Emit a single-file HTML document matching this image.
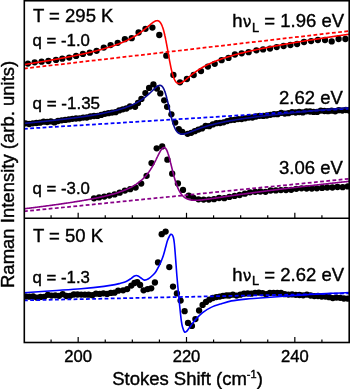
<!DOCTYPE html>
<html><head><meta charset="utf-8"><title>Raman Fano spectra</title>
<style>html,body{margin:0;padding:0;background:#fff;}body{width:350px;height:389px;overflow:hidden;}svg{display:block;}</style>
</head><body>
<svg width="350" height="389" viewBox="0 0 350 389">
<defs><clipPath id="c1"><rect x="24" y="1" width="325" height="217"/></clipPath>
<clipPath id="c2"><rect x="24" y="218" width="325" height="124"/></clipPath></defs>
<g clip-path="url(#c1)">
<g fill="#000"><circle cx="27.9" cy="63.6" r="3.15"/><circle cx="34.7" cy="62.3" r="3.15"/><circle cx="41.6" cy="61.7" r="3.15"/><circle cx="48.4" cy="61.0" r="3.15"/><circle cx="56.0" cy="59.9" r="3.15"/><circle cx="62.3" cy="58.7" r="3.15"/><circle cx="69.2" cy="57.6" r="3.15"/><circle cx="76.1" cy="55.9" r="3.15"/><circle cx="82.9" cy="53.9" r="3.15"/><circle cx="89.8" cy="52.7" r="3.15"/><circle cx="96.6" cy="50.8" r="3.15"/><circle cx="103.8" cy="47.6" r="3.15"/><circle cx="110.6" cy="45.1" r="3.15"/><circle cx="117.7" cy="42.8" r="3.15"/><circle cx="124.9" cy="39.2" r="3.15"/><circle cx="131.7" cy="38.2" r="3.15"/><circle cx="138.6" cy="32.5" r="3.15"/><circle cx="145.5" cy="28.8" r="3.15"/><circle cx="152.4" cy="27.6" r="3.15"/><circle cx="159.3" cy="35.0" r="3.15"/><circle cx="166.3" cy="55.7" r="3.15"/><circle cx="173.4" cy="74.9" r="3.15"/><circle cx="180.0" cy="82.3" r="3.15"/><circle cx="186.9" cy="79.0" r="3.15"/><circle cx="193.7" cy="75.0" r="3.15"/><circle cx="201.0" cy="71.1" r="3.15"/><circle cx="207.9" cy="66.6" r="3.15"/><circle cx="214.7" cy="63.8" r="3.15"/><circle cx="221.6" cy="60.2" r="3.15"/><circle cx="228.5" cy="57.9" r="3.15"/><circle cx="234.9" cy="54.5" r="3.15"/><circle cx="241.7" cy="53.3" r="3.15"/><circle cx="248.6" cy="52.2" r="3.15"/><circle cx="256.4" cy="50.3" r="3.15"/><circle cx="263.1" cy="49.4" r="3.15"/><circle cx="270.0" cy="48.6" r="3.15"/><circle cx="276.7" cy="47.1" r="3.15"/><circle cx="283.6" cy="46.0" r="3.15"/><circle cx="290.4" cy="45.0" r="3.15"/><circle cx="297.1" cy="44.0" r="3.15"/><circle cx="304.0" cy="42.0" r="3.15"/><circle cx="311.1" cy="41.1" r="3.15"/><circle cx="317.9" cy="40.0" r="3.15"/><circle cx="325.0" cy="40.0" r="3.15"/><circle cx="331.7" cy="41.4" r="3.15"/><circle cx="338.6" cy="39.0" r="3.15"/><circle cx="345.4" cy="39.0" r="3.15"/><circle cx="22.0" cy="125.3" r="3.15"/><circle cx="25.6" cy="123.3" r="3.15"/><circle cx="29.2" cy="124.0" r="3.15"/><circle cx="32.8" cy="123.3" r="3.15"/><circle cx="36.4" cy="123.0" r="3.15"/><circle cx="40.0" cy="122.7" r="3.15"/><circle cx="43.6" cy="121.7" r="3.15"/><circle cx="47.2" cy="122.0" r="3.15"/><circle cx="50.8" cy="121.4" r="3.15"/><circle cx="54.4" cy="122.4" r="3.15"/><circle cx="58.0" cy="121.0" r="3.15"/><circle cx="61.6" cy="120.3" r="3.15"/><circle cx="65.2" cy="119.9" r="3.15"/><circle cx="68.8" cy="119.4" r="3.15"/><circle cx="72.4" cy="118.8" r="3.15"/><circle cx="76.0" cy="118.5" r="3.15"/><circle cx="79.6" cy="118.3" r="3.15"/><circle cx="83.2" cy="117.6" r="3.15"/><circle cx="86.8" cy="117.5" r="3.15"/><circle cx="90.4" cy="116.5" r="3.15"/><circle cx="94.0" cy="116.0" r="3.15"/><circle cx="97.6" cy="115.9" r="3.15"/><circle cx="101.2" cy="114.9" r="3.15"/><circle cx="104.8" cy="113.8" r="3.15"/><circle cx="108.4" cy="113.2" r="3.15"/><circle cx="112.0" cy="112.6" r="3.15"/><circle cx="115.6" cy="112.2" r="3.15"/><circle cx="119.2" cy="110.4" r="3.15"/><circle cx="122.8" cy="109.3" r="3.15"/><circle cx="126.4" cy="108.5" r="3.15"/><circle cx="130.0" cy="106.5" r="3.15"/><circle cx="187.6" cy="133.8" r="3.15"/><circle cx="191.2" cy="132.8" r="3.15"/><circle cx="194.8" cy="131.2" r="3.15"/><circle cx="198.4" cy="129.6" r="3.15"/><circle cx="202.0" cy="128.4" r="3.15"/><circle cx="205.6" cy="126.0" r="3.15"/><circle cx="209.2" cy="126.2" r="3.15"/><circle cx="212.8" cy="124.4" r="3.15"/><circle cx="216.4" cy="123.2" r="3.15"/><circle cx="220.0" cy="123.0" r="3.15"/><circle cx="223.6" cy="122.3" r="3.15"/><circle cx="227.2" cy="121.1" r="3.15"/><circle cx="230.8" cy="120.1" r="3.15"/><circle cx="234.4" cy="119.8" r="3.15"/><circle cx="238.0" cy="119.1" r="3.15"/><circle cx="241.6" cy="119.1" r="3.15"/><circle cx="245.2" cy="118.3" r="3.15"/><circle cx="248.8" cy="117.6" r="3.15"/><circle cx="252.4" cy="117.5" r="3.15"/><circle cx="256.0" cy="116.5" r="3.15"/><circle cx="259.6" cy="115.8" r="3.15"/><circle cx="263.2" cy="115.9" r="3.15"/><circle cx="266.8" cy="115.5" r="3.15"/><circle cx="270.4" cy="114.8" r="3.15"/><circle cx="274.0" cy="114.2" r="3.15"/><circle cx="277.6" cy="114.2" r="3.15"/><circle cx="281.2" cy="112.8" r="3.15"/><circle cx="284.8" cy="113.6" r="3.15"/><circle cx="288.4" cy="113.2" r="3.15"/><circle cx="292.0" cy="112.1" r="3.15"/><circle cx="295.6" cy="112.5" r="3.15"/><circle cx="299.2" cy="112.0" r="3.15"/><circle cx="302.8" cy="112.4" r="3.15"/><circle cx="306.4" cy="111.3" r="3.15"/><circle cx="310.0" cy="111.5" r="3.15"/><circle cx="313.6" cy="111.9" r="3.15"/><circle cx="317.2" cy="111.9" r="3.15"/><circle cx="320.8" cy="110.6" r="3.15"/><circle cx="324.4" cy="111.0" r="3.15"/><circle cx="328.0" cy="111.2" r="3.15"/><circle cx="331.6" cy="110.7" r="3.15"/><circle cx="335.2" cy="111.3" r="3.15"/><circle cx="338.8" cy="110.2" r="3.15"/><circle cx="342.4" cy="110.6" r="3.15"/><circle cx="346.0" cy="110.0" r="3.15"/><circle cx="349.6" cy="110.7" r="3.15"/><circle cx="135.1" cy="106.8" r="3.15"/><circle cx="138.0" cy="102.9" r="3.15"/><circle cx="141.4" cy="98.9" r="3.15"/><circle cx="145.4" cy="93.1" r="3.15"/><circle cx="149.1" cy="87.9" r="3.15"/><circle cx="153.4" cy="84.3" r="3.15"/><circle cx="156.9" cy="88.6" r="3.15"/><circle cx="160.3" cy="93.4" r="3.15"/><circle cx="164.2" cy="100.3" r="3.15"/><circle cx="167.1" cy="106.8" r="3.15"/><circle cx="171.4" cy="114.3" r="3.15"/><circle cx="175.2" cy="122.6" r="3.15"/><circle cx="178.8" cy="129.1" r="3.15"/><circle cx="182.2" cy="131.8" r="3.15"/><circle cx="208.8" cy="199.6" r="3.15"/><circle cx="214.0" cy="199.2" r="3.15"/><circle cx="219.1" cy="198.0" r="3.15"/><circle cx="224.3" cy="198.2" r="3.15"/><circle cx="229.4" cy="196.9" r="3.15"/><circle cx="234.6" cy="195.9" r="3.15"/><circle cx="239.7" cy="195.0" r="3.15"/><circle cx="244.9" cy="193.7" r="3.15"/><circle cx="250.0" cy="192.3" r="3.15"/><circle cx="255.2" cy="191.8" r="3.15"/><circle cx="260.3" cy="191.5" r="3.15"/><circle cx="265.5" cy="191.8" r="3.15"/><circle cx="270.6" cy="190.5" r="3.15"/><circle cx="275.8" cy="190.4" r="3.15"/><circle cx="280.9" cy="190.1" r="3.15"/><circle cx="286.0" cy="190.0" r="3.15"/><circle cx="291.2" cy="189.8" r="3.15"/><circle cx="296.3" cy="188.8" r="3.15"/><circle cx="301.5" cy="188.3" r="3.15"/><circle cx="306.6" cy="188.5" r="3.15"/><circle cx="311.8" cy="188.6" r="3.15"/><circle cx="316.9" cy="188.3" r="3.15"/><circle cx="322.1" cy="187.9" r="3.15"/><circle cx="327.2" cy="187.5" r="3.15"/><circle cx="332.4" cy="187.5" r="3.15"/><circle cx="337.5" cy="187.0" r="3.15"/><circle cx="342.7" cy="187.2" r="3.15"/><circle cx="347.8" cy="186.4" r="3.15"/><circle cx="94.0" cy="198.3" r="3.15"/><circle cx="99.1" cy="197.4" r="3.15"/><circle cx="104.3" cy="196.6" r="3.15"/><circle cx="109.4" cy="195.6" r="3.15"/><circle cx="114.6" cy="194.4" r="3.15"/><circle cx="119.7" cy="192.7" r="3.15"/><circle cx="124.9" cy="190.6" r="3.15"/><circle cx="130.2" cy="189.2" r="3.15"/><circle cx="135.6" cy="187.6" r="3.15"/><circle cx="141.2" cy="183.6" r="3.15"/><circle cx="146.6" cy="175.8" r="3.15"/><circle cx="151.5" cy="163.1" r="3.15"/><circle cx="156.7" cy="148.3" r="3.15"/><circle cx="162.2" cy="146.4" r="3.15"/><circle cx="167.4" cy="159.7" r="3.15"/><circle cx="172.2" cy="173.7" r="3.15"/><circle cx="177.9" cy="183.4" r="3.15"/><circle cx="183.0" cy="189.9" r="3.15"/><circle cx="188.7" cy="195.7" r="3.15"/><circle cx="193.4" cy="197.9" r="3.15"/><circle cx="198.5" cy="199.3" r="3.15"/><circle cx="203.6" cy="199.6" r="3.15"/></g>
<g fill="none" stroke-width="1.75" stroke-dasharray="3.8 2.4">
<line x1="24" y1="68.53" x2="349" y2="30.99" stroke="#ff0000"/>
<line x1="24" y1="128.76" x2="349" y2="108.61" stroke="#0000ff"/>
<line x1="24" y1="211.34" x2="349" y2="178.79" stroke="#880088"/>
</g>
<g fill="none" stroke-width="1.6" stroke-linejoin="round">
<path d="M24.00,64.60 L24.81,64.47 L25.63,64.34 L26.44,64.21 L27.26,64.08 L28.07,63.95 L28.89,63.82 L29.70,63.69 L30.52,63.56 L31.33,63.43 L32.15,63.30 L32.96,63.17 L33.77,63.04 L34.59,62.91 L35.40,62.77 L36.22,62.64 L37.03,62.51 L37.85,62.37 L38.66,62.24 L39.48,62.11 L40.29,61.97 L41.11,61.83 L41.92,61.70 L42.73,61.56 L43.55,61.42 L44.36,61.29 L45.18,61.15 L45.99,61.01 L46.81,60.87 L47.62,60.73 L48.44,60.59 L49.25,60.45 L50.07,60.31 L50.88,60.17 L51.69,60.03 L52.51,59.88 L53.32,59.74 L54.14,59.60 L54.95,59.45 L55.77,59.31 L56.58,59.16 L57.40,59.01 L58.21,58.87 L59.03,58.72 L59.84,58.57 L60.65,58.42 L61.47,58.27 L62.28,58.12 L63.10,57.97 L63.91,57.81 L64.73,57.66 L65.54,57.51 L66.36,57.35 L67.17,57.19 L67.98,57.04 L68.80,56.88 L69.61,56.72 L70.43,56.56 L71.24,56.40 L72.06,56.24 L72.87,56.08 L73.69,55.91 L74.50,55.75 L75.32,55.58 L76.13,55.41 L76.94,55.25 L77.76,55.08 L78.57,54.91 L79.39,54.73 L80.20,54.56 L81.02,54.39 L81.83,54.21 L82.65,54.03 L83.46,53.85 L84.28,53.67 L85.09,53.49 L85.90,53.31 L86.72,53.12 L87.53,52.94 L88.35,52.75 L89.16,52.56 L89.98,52.37 L90.79,52.18 L91.61,51.98 L92.42,51.78 L93.24,51.58 L94.05,51.38 L94.86,51.18 L95.68,50.97 L96.49,50.77 L97.31,50.56 L98.12,50.34 L98.94,50.13 L99.75,49.91 L100.57,49.69 L101.38,49.47 L102.20,49.24 L103.01,49.01 L103.82,48.78 L104.64,48.55 L105.45,48.31 L106.27,48.07 L107.08,47.82 L107.90,47.58 L108.71,47.32 L109.53,47.07 L110.34,46.81 L111.16,46.55 L111.97,46.28 L112.78,46.01 L113.60,45.73 L114.41,45.45 L115.23,45.16 L116.04,44.87 L116.86,44.57 L117.67,44.27 L118.49,43.96 L119.30,43.65 L120.12,43.33 L120.93,43.00 L121.74,42.67 L122.56,42.33 L123.37,41.99 L124.19,41.63 L125.00,41.27 L125.82,40.90 L126.63,40.52 L127.45,40.14 L128.26,39.74 L129.08,39.33 L129.89,38.92 L130.70,38.49 L131.52,38.06 L132.33,37.61 L133.15,37.15 L133.96,36.68 L134.78,36.20 L135.59,35.70 L136.41,35.20 L137.22,34.67 L138.04,34.14 L138.85,33.59 L139.66,33.03 L140.00,32.79 L140.10,32.72 L140.20,32.65 L140.30,32.58 L140.40,32.50 L140.48,32.45 L140.50,32.43 L140.60,32.36 L140.70,32.29 L140.80,32.22 L140.90,32.14 L141.00,32.07 L141.10,32.00 L141.20,31.92 L141.29,31.86 L141.30,31.85 L141.40,31.77 L141.50,31.70 L141.60,31.63 L141.70,31.55 L141.80,31.48 L141.90,31.40 L142.00,31.33 L142.10,31.25 L142.11,31.25 L142.20,31.18 L142.30,31.10 L142.40,31.02 L142.50,30.95 L142.60,30.87 L142.70,30.79 L142.80,30.72 L142.90,30.64 L142.92,30.63 L143.01,30.56 L143.11,30.48 L143.21,30.41 L143.31,30.33 L143.41,30.25 L143.51,30.17 L143.61,30.09 L143.71,30.01 L143.74,29.99 L143.81,29.94 L143.91,29.86 L144.01,29.78 L144.11,29.70 L144.21,29.62 L144.31,29.54 L144.41,29.46 L144.51,29.38 L144.55,29.34 L144.61,29.30 L144.71,29.22 L144.81,29.13 L144.91,29.05 L145.01,28.97 L145.11,28.89 L145.21,28.81 L145.31,28.73 L145.37,28.68 L145.41,28.64 L145.51,28.56 L145.61,28.48 L145.71,28.40 L145.81,28.31 L145.91,28.23 L146.01,28.15 L146.11,28.07 L146.18,28.01 L146.21,27.98 L146.31,27.90 L146.41,27.82 L146.51,27.73 L146.61,27.65 L146.71,27.56 L146.81,27.48 L146.91,27.40 L146.99,27.33 L147.01,27.31 L147.11,27.23 L147.21,27.14 L147.31,27.06 L147.41,26.97 L147.51,26.89 L147.61,26.80 L147.71,26.72 L147.81,26.64 L147.81,26.63 L147.91,26.55 L148.01,26.47 L148.11,26.38 L148.21,26.30 L148.31,26.21 L148.41,26.13 L148.51,26.04 L148.61,25.95 L148.62,25.95 L148.71,25.87 L148.81,25.79 L148.91,25.70 L149.02,25.62 L149.12,25.53 L149.22,25.45 L149.32,25.36 L149.42,25.28 L149.44,25.26 L149.52,25.19 L149.62,25.11 L149.72,25.02 L149.82,24.94 L149.92,24.85 L150.02,24.77 L150.12,24.69 L150.22,24.60 L150.25,24.57 L150.32,24.52 L150.42,24.44 L150.52,24.35 L150.62,24.27 L150.72,24.19 L150.82,24.11 L150.92,24.03 L151.02,23.94 L151.07,23.90 L151.12,23.86 L151.22,23.78 L151.32,23.70 L151.42,23.62 L151.52,23.54 L151.62,23.46 L151.72,23.39 L151.82,23.31 L151.88,23.26 L151.92,23.23 L152.02,23.15 L152.12,23.08 L152.22,23.00 L152.32,22.92 L152.42,22.85 L152.52,22.77 L152.62,22.70 L152.70,22.65 L152.72,22.63 L152.82,22.56 L152.92,22.48 L153.02,22.41 L153.12,22.34 L153.22,22.27 L153.32,22.21 L153.42,22.14 L153.51,22.08 L153.52,22.07 L153.62,22.01 L153.72,21.94 L153.82,21.88 L153.92,21.82 L154.02,21.76 L154.12,21.70 L154.22,21.64 L154.32,21.58 L154.33,21.58 L154.42,21.52 L154.52,21.47 L154.62,21.42 L154.72,21.36 L154.82,21.31 L154.92,21.26 L155.03,21.22 L155.13,21.17 L155.14,21.16 L155.23,21.13 L155.33,21.08 L155.43,21.04 L155.53,21.00 L155.63,20.97 L155.73,20.93 L155.83,20.90 L155.93,20.87 L155.95,20.86 L156.03,20.84 L156.13,20.81 L156.23,20.78 L156.33,20.76 L156.43,20.74 L156.53,20.72 L156.63,20.71 L156.73,20.70 L156.77,20.69 L156.83,20.68 L156.93,20.68 L157.03,20.67 L157.13,20.67 L157.23,20.67 L157.33,20.67 L157.43,20.68 L157.53,20.69 L157.58,20.70 L157.63,20.70 L157.73,20.72 L157.83,20.74 L157.93,20.76 L158.03,20.79 L158.13,20.82 L158.23,20.85 L158.33,20.89 L158.40,20.92 L158.43,20.93 L158.53,20.98 L158.63,21.02 L158.73,21.08 L158.83,21.13 L158.93,21.20 L159.03,21.26 L159.13,21.33 L159.21,21.39 L159.23,21.41 L159.33,21.49 L159.43,21.57 L159.53,21.66 L159.63,21.76 L159.73,21.86 L159.83,21.96 L159.93,22.07 L160.03,22.18 L160.03,22.18 L160.13,22.30 L160.23,22.43 L160.33,22.56 L160.43,22.70 L160.53,22.84 L160.63,22.99 L160.73,23.14 L160.83,23.31 L160.84,23.32 L160.93,23.47 L161.04,23.65 L161.14,23.82 L161.24,24.01 L161.34,24.20 L161.44,24.40 L161.54,24.61 L161.64,24.82 L161.66,24.86 L161.74,25.04 L161.84,25.26 L161.94,25.50 L162.04,25.74 L162.14,25.98 L162.24,26.24 L162.34,26.50 L162.44,26.77 L162.47,26.86 L162.54,27.04 L162.64,27.32 L162.74,27.61 L162.84,27.91 L162.94,28.22 L163.04,28.53 L163.14,28.85 L163.24,29.17 L163.29,29.33 L163.34,29.51 L163.44,29.85 L163.54,30.20 L163.64,30.56 L163.74,30.92 L163.84,31.29 L163.94,31.67 L164.04,32.06 L164.10,32.30 L164.14,32.45 L164.24,32.86 L164.34,33.26 L164.44,33.68 L164.54,34.10 L164.64,34.53 L164.74,34.97 L164.84,35.41 L164.91,35.74 L164.94,35.86 L165.04,36.32 L165.14,36.78 L165.24,37.25 L165.34,37.73 L165.44,38.21 L165.54,38.70 L165.64,39.19 L165.73,39.62 L165.74,39.69 L165.84,40.19 L165.94,40.70 L166.04,41.22 L166.14,41.73 L166.24,42.26 L166.34,42.79 L166.44,43.32 L166.54,43.85 L166.54,43.86 L166.64,44.40 L166.74,44.94 L166.84,45.49 L166.94,46.04 L167.05,46.59 L167.15,47.15 L167.25,47.70 L167.35,48.26 L167.36,48.34 L167.45,48.83 L167.55,49.39 L167.65,49.95 L167.75,50.52 L167.85,51.09 L167.95,51.65 L168.05,52.22 L168.15,52.79 L168.17,52.93 L168.25,53.35 L168.35,53.92 L168.45,54.48 L168.55,55.05 L168.65,55.61 L168.75,56.17 L168.85,56.73 L168.95,57.29 L168.99,57.50 L169.05,57.84 L169.15,58.39 L169.25,58.94 L169.35,59.49 L169.45,60.03 L169.55,60.57 L169.65,61.10 L169.75,61.63 L169.80,61.91 L169.85,62.16 L169.95,62.68 L170.05,63.19 L170.15,63.71 L170.25,64.21 L170.35,64.71 L170.45,65.21 L170.55,65.70 L170.62,66.02 L170.65,66.18 L170.75,66.66 L170.85,67.13 L170.95,67.60 L171.05,68.06 L171.15,68.51 L171.25,68.96 L171.35,69.40 L171.43,69.74 L171.45,69.83 L171.55,70.25 L171.65,70.67 L171.75,71.08 L171.85,71.49 L171.95,71.88 L172.05,72.27 L172.15,72.66 L172.25,73.00 L172.25,73.03 L172.35,73.40 L172.45,73.76 L172.55,74.11 L172.65,74.46 L172.75,74.80 L172.85,75.13 L172.95,75.45 L173.06,75.77 L173.06,75.78 L173.16,76.07 L173.26,76.38 L173.36,76.67 L173.46,76.95 L173.56,77.23 L173.66,77.51 L173.76,77.77 L173.86,78.03 L173.87,78.07 L173.96,78.28 L174.06,78.52 L174.16,78.76 L174.26,78.99 L174.36,79.21 L174.46,79.42 L174.56,79.63 L174.66,79.83 L174.69,79.90 L174.76,80.03 L174.86,80.22 L174.96,80.40 L175.06,80.58 L175.16,80.75 L175.26,80.91 L175.36,81.07 L175.46,81.22 L175.50,81.29 L175.56,81.37 L175.66,81.51 L175.76,81.64 L175.86,81.77 L175.96,81.90 L176.06,82.01 L176.16,82.13 L176.26,82.23 L176.32,82.29 L176.36,82.34 L176.46,82.43 L176.56,82.53 L176.66,82.61 L176.76,82.70 L176.86,82.78 L176.96,82.85 L177.06,82.92 L177.13,82.96 L177.16,82.98 L177.26,83.04 L177.36,83.10 L177.46,83.15 L177.56,83.20 L177.66,83.24 L177.76,83.28 L177.86,83.32 L177.95,83.35 L177.96,83.35 L178.06,83.38 L178.16,83.41 L178.26,83.43 L178.36,83.45 L178.46,83.46 L178.56,83.47 L178.66,83.48 L178.76,83.49 L178.76,83.49 L178.86,83.49 L178.96,83.49 L179.07,83.49 L179.17,83.48 L179.27,83.48 L179.37,83.47 L179.47,83.45 L179.57,83.44 L179.58,83.44 L179.67,83.42 L179.77,83.40 L179.87,83.38 L179.97,83.35 L180.07,83.32 L180.17,83.29 L180.27,83.26 L180.37,83.23 L180.39,83.22 L180.47,83.19 L180.57,83.16 L180.67,83.12 L180.77,83.08 L180.87,83.04 L180.97,82.99 L181.07,82.95 L181.17,82.90 L181.21,82.88 L181.27,82.85 L181.37,82.80 L181.47,82.75 L181.57,82.69 L181.67,82.64 L181.77,82.58 L181.87,82.53 L181.97,82.47 L182.02,82.44 L182.07,82.41 L182.17,82.35 L182.27,82.29 L182.37,82.22 L182.47,82.16 L182.57,82.10 L182.67,82.03 L182.77,81.96 L182.83,81.92 L182.87,81.90 L182.97,81.83 L183.07,81.76 L183.17,81.69 L183.27,81.62 L183.37,81.55 L183.47,81.47 L183.57,81.40 L183.65,81.35 L183.67,81.33 L183.77,81.25 L183.87,81.18 L183.97,81.10 L184.07,81.03 L184.17,80.95 L184.27,80.87 L184.37,80.80 L184.46,80.73 L184.47,80.72 L184.57,80.64 L184.67,80.56 L184.77,80.48 L184.87,80.40 L184.97,80.32 L185.08,80.24 L185.18,80.16 L185.28,80.08 L185.28,80.08 L185.38,80.00 L185.48,79.92 L185.58,79.84 L185.68,79.75 L185.78,79.67 L185.88,79.59 L185.98,79.51 L186.08,79.42 L186.09,79.41 L186.18,79.34 L186.28,79.26 L186.38,79.18 L186.48,79.09 L186.58,79.01 L186.68,78.92 L186.78,78.84 L186.88,78.76 L186.91,78.73 L186.98,78.67 L187.08,78.59 L187.18,78.51 L187.28,78.42 L187.38,78.34 L187.48,78.25 L187.58,78.17 L187.68,78.08 L187.72,78.05 L187.78,78.00 L187.88,77.92 L187.98,77.83 L188.08,77.75 L188.18,77.66 L188.28,77.58 L188.38,77.50 L188.48,77.41 L188.54,77.37 L188.58,77.33 L188.68,77.24 L188.78,77.16 L188.88,77.08 L188.98,76.99 L189.08,76.91 L189.18,76.83 L189.28,76.74 L189.35,76.69 L189.38,76.66 L189.48,76.58 L189.58,76.49 L189.68,76.41 L189.78,76.33 L189.88,76.25 L189.98,76.16 L190.08,76.08 L190.17,76.01 L190.18,76.00 L190.28,75.92 L190.38,75.83 L190.48,75.75 L190.58,75.67 L190.68,75.59 L190.78,75.51 L190.88,75.43 L190.98,75.35 L190.98,75.35 L191.09,75.27 L191.19,75.19 L191.29,75.10 L191.39,75.02 L191.49,74.94 L191.59,74.86 L191.69,74.78 L191.79,74.71 L191.79,74.70 L191.89,74.63 L191.99,74.55 L192.09,74.47 L192.19,74.39 L192.29,74.31 L192.39,74.23 L192.49,74.15 L192.59,74.08 L192.61,74.06 L192.69,74.00 L192.79,73.92 L192.89,73.84 L192.99,73.77 L193.09,73.69 L193.19,73.61 L193.29,73.54 L193.39,73.46 L193.42,73.43 L193.49,73.38 L193.59,73.31 L193.69,73.23 L193.79,73.16 L193.89,73.08 L193.99,73.01 L194.09,72.93 L194.19,72.86 L194.24,72.82 L194.29,72.78 L194.39,72.71 L194.49,72.63 L194.59,72.56 L194.69,72.49 L194.79,72.41 L194.89,72.34 L194.99,72.27 L195.05,72.22 L195.09,72.20 L195.19,72.12 L195.29,72.05 L195.39,71.98 L195.49,71.91 L195.59,71.84 L195.69,71.76 L195.79,71.69 L195.87,71.64 L195.89,71.62 L195.99,71.55 L196.09,71.48 L196.19,71.41 L196.29,71.34 L196.39,71.27 L196.49,71.20 L196.59,71.13 L196.68,71.07 L196.69,71.06 L196.79,70.99 L196.89,70.92 L196.99,70.86 L197.10,70.79 L197.20,70.72 L197.30,70.65 L197.40,70.58 L197.50,70.52 L197.50,70.52 L197.60,70.45 L197.70,70.38 L197.80,70.32 L197.90,70.25 L198.00,70.18 L198.10,70.12 L198.20,70.05 L198.30,69.98 L198.31,69.98 L198.40,69.92 L198.50,69.85 L198.60,69.79 L198.70,69.72 L198.80,69.66 L198.90,69.59 L199.00,69.53 L199.10,69.47 L199.13,69.45 L199.20,69.40 L199.30,69.34 L199.40,69.27 L199.50,69.21 L199.60,69.15 L199.70,69.09 L199.80,69.02 L199.90,68.96 L199.94,68.93 L200.00,68.90 L200.75,68.43 L201.57,67.95 L202.38,67.47 L203.20,67.01 L204.01,66.56 L204.83,66.12 L205.64,65.69 L206.46,65.27 L207.27,64.86 L208.09,64.46 L208.90,64.07 L209.71,63.68 L210.53,63.31 L211.34,62.94 L212.16,62.59 L212.97,62.24 L213.79,61.89 L214.60,61.56 L215.42,61.23 L216.23,60.91 L217.05,60.59 L217.86,60.28 L218.67,59.98 L219.49,59.68 L220.30,59.38 L221.12,59.09 L221.93,58.81 L222.75,58.53 L223.56,58.26 L224.38,57.99 L225.19,57.72 L226.01,57.46 L226.82,57.20 L227.63,56.95 L228.45,56.70 L229.26,56.45 L230.08,56.21 L230.89,55.97 L231.71,55.74 L232.52,55.50 L233.34,55.27 L234.15,55.05 L234.96,54.82 L235.78,54.60 L236.59,54.38 L237.41,54.16 L238.22,53.95 L239.04,53.74 L239.85,53.53 L240.67,53.32 L241.48,53.12 L242.30,52.92 L243.11,52.72 L243.92,52.52 L244.74,52.32 L245.55,52.13 L246.37,51.94 L247.18,51.75 L248.00,51.56 L248.81,51.37 L249.63,51.18 L250.44,51.00 L251.26,50.82 L252.07,50.64 L252.88,50.46 L253.70,50.28 L254.51,50.10 L255.33,49.93 L256.14,49.75 L256.96,49.58 L257.77,49.41 L258.59,49.24 L259.40,49.07 L260.22,48.90 L261.03,48.74 L261.84,48.57 L262.66,48.41 L263.47,48.24 L264.29,48.08 L265.10,47.92 L265.92,47.76 L266.73,47.60 L267.55,47.44 L268.36,47.29 L269.18,47.13 L269.99,46.97 L270.80,46.82 L271.62,46.67 L272.43,46.51 L273.25,46.36 L274.06,46.21 L274.88,46.06 L275.69,45.91 L276.51,45.76 L277.32,45.61 L278.14,45.46 L278.95,45.32 L279.76,45.17 L280.58,45.02 L281.39,44.88 L282.21,44.73 L283.02,44.59 L283.84,44.45 L284.65,44.30 L285.47,44.16 L286.28,44.02 L287.10,43.88 L287.91,43.74 L288.72,43.60 L289.54,43.46 L290.35,43.32 L291.17,43.18 L291.98,43.05 L292.80,42.91 L293.61,42.77 L294.43,42.64 L295.24,42.50 L296.06,42.36 L296.87,42.23 L297.68,42.09 L298.50,41.96 L299.31,41.83 L300.13,41.69 L300.94,41.56 L301.76,41.43 L302.57,41.30 L303.39,41.17 L304.20,41.03 L305.02,40.90 L305.83,40.77 L306.64,40.64 L307.46,40.51 L308.27,40.38 L309.09,40.25 L309.90,40.13 L310.72,40.00 L311.53,39.87 L312.35,39.74 L313.16,39.61 L313.97,39.49 L314.79,39.36 L315.60,39.23 L316.42,39.11 L317.23,38.98 L318.05,38.86 L318.86,38.73 L319.68,38.60 L320.49,38.48 L321.31,38.36 L322.12,38.23 L322.93,38.11 L323.75,37.98 L324.56,37.86 L325.38,37.74 L326.19,37.61 L327.01,37.49 L327.82,37.37 L328.64,37.25 L329.45,37.12 L330.27,37.00 L331.08,36.88 L331.89,36.76 L332.71,36.64 L333.52,36.52 L334.34,36.40 L335.15,36.28 L335.97,36.15 L336.78,36.03 L337.60,35.91 L338.41,35.79 L339.23,35.68 L340.04,35.56 L340.85,35.44 L341.67,35.32 L342.48,35.20 L343.30,35.08 L344.11,34.96 L344.93,34.84 L345.74,34.73 L346.56,34.61 L347.37,34.49 L348.19,34.37 L349.00,34.25" stroke="#ff0000"/>
<path d="M24.00,123.39 L24.81,123.32 L25.63,123.24 L26.44,123.16 L27.26,123.08 L28.07,123.00 L28.89,122.92 L29.70,122.84 L30.52,122.76 L31.33,122.68 L32.15,122.60 L32.96,122.52 L33.77,122.44 L34.59,122.36 L35.40,122.28 L36.22,122.20 L37.03,122.12 L37.85,122.03 L38.66,121.95 L39.48,121.87 L40.29,121.79 L41.11,121.70 L41.92,121.62 L42.73,121.53 L43.55,121.45 L44.36,121.36 L45.18,121.28 L45.99,121.19 L46.81,121.11 L47.62,121.02 L48.44,120.93 L49.25,120.84 L50.07,120.76 L50.88,120.67 L51.69,120.58 L52.51,120.49 L53.32,120.40 L54.14,120.31 L54.95,120.22 L55.77,120.13 L56.58,120.03 L57.40,119.94 L58.21,119.85 L59.03,119.76 L59.84,119.66 L60.65,119.57 L61.47,119.47 L62.28,119.38 L63.10,119.28 L63.91,119.18 L64.73,119.09 L65.54,118.99 L66.36,118.89 L67.17,118.79 L67.98,118.69 L68.80,118.59 L69.61,118.48 L70.43,118.38 L71.24,118.28 L72.06,118.17 L72.87,118.07 L73.69,117.96 L74.50,117.86 L75.32,117.75 L76.13,117.64 L76.94,117.53 L77.76,117.42 L78.57,117.31 L79.39,117.20 L80.20,117.08 L81.02,116.97 L81.83,116.85 L82.65,116.74 L83.46,116.62 L84.28,116.50 L85.09,116.38 L85.90,116.26 L86.72,116.14 L87.53,116.01 L88.35,115.89 L89.16,115.76 L89.98,115.63 L90.79,115.50 L91.61,115.37 L92.42,115.24 L93.24,115.10 L94.05,114.96 L94.86,114.83 L95.68,114.69 L96.49,114.54 L97.31,114.40 L98.12,114.26 L98.94,114.11 L99.75,113.96 L100.57,113.81 L101.38,113.65 L102.20,113.49 L103.01,113.34 L103.82,113.17 L104.64,113.01 L105.45,112.84 L106.27,112.67 L107.08,112.50 L107.90,112.32 L108.71,112.15 L109.53,111.96 L110.34,111.78 L111.16,111.59 L111.97,111.40 L112.78,111.20 L113.60,111.00 L114.41,110.79 L115.23,110.59 L116.04,110.37 L116.86,110.15 L117.67,109.93 L118.49,109.70 L119.30,109.47 L120.12,109.23 L120.93,108.99 L121.74,108.74 L122.56,108.48 L123.37,108.21 L124.19,107.94 L125.00,107.67 L125.82,107.38 L126.63,107.09 L127.45,106.79 L128.26,106.48 L129.08,106.16 L129.89,105.83 L130.70,105.49 L131.52,105.14 L132.33,104.78 L133.15,104.41 L133.96,104.02 L134.78,103.62 L135.59,103.21 L136.41,102.79 L137.22,102.35 L138.04,101.89 L138.85,101.42 L139.66,100.93 L140.00,100.72 L140.10,100.66 L140.20,100.59 L140.30,100.53 L140.40,100.47 L140.48,100.42 L140.50,100.41 L140.60,100.34 L140.70,100.28 L140.80,100.21 L140.90,100.15 L141.00,100.08 L141.10,100.02 L141.20,99.95 L141.29,99.89 L141.30,99.89 L141.40,99.82 L141.50,99.75 L141.60,99.69 L141.70,99.62 L141.80,99.55 L141.90,99.49 L142.00,99.42 L142.10,99.35 L142.11,99.35 L142.20,99.28 L142.30,99.21 L142.40,99.14 L142.50,99.07 L142.60,99.00 L142.70,98.93 L142.80,98.86 L142.90,98.79 L142.92,98.78 L143.01,98.72 L143.11,98.65 L143.21,98.58 L143.31,98.51 L143.41,98.44 L143.51,98.36 L143.61,98.29 L143.71,98.22 L143.74,98.19 L143.81,98.14 L143.91,98.07 L144.01,97.99 L144.11,97.92 L144.21,97.85 L144.31,97.77 L144.41,97.69 L144.51,97.62 L144.55,97.59 L144.61,97.54 L144.71,97.47 L144.81,97.39 L144.91,97.31 L145.01,97.23 L145.11,97.16 L145.21,97.08 L145.31,97.00 L145.37,96.96 L145.41,96.92 L145.51,96.84 L145.61,96.76 L145.71,96.68 L145.81,96.60 L145.91,96.52 L146.01,96.44 L146.11,96.36 L146.18,96.30 L146.21,96.28 L146.31,96.20 L146.41,96.11 L146.51,96.03 L146.61,95.95 L146.71,95.87 L146.81,95.78 L146.91,95.70 L146.99,95.63 L147.01,95.61 L147.11,95.53 L147.21,95.44 L147.31,95.36 L147.41,95.27 L147.51,95.19 L147.61,95.10 L147.71,95.01 L147.81,94.93 L147.81,94.93 L147.91,94.84 L148.01,94.75 L148.11,94.66 L148.21,94.58 L148.31,94.49 L148.41,94.40 L148.51,94.31 L148.61,94.22 L148.62,94.21 L148.71,94.13 L148.81,94.04 L148.91,93.95 L149.02,93.86 L149.12,93.77 L149.22,93.68 L149.32,93.59 L149.42,93.49 L149.44,93.47 L149.52,93.40 L149.62,93.31 L149.72,93.22 L149.82,93.12 L149.92,93.03 L150.02,92.94 L150.12,92.84 L150.22,92.75 L150.25,92.72 L150.32,92.66 L150.42,92.56 L150.52,92.47 L150.62,92.37 L150.72,92.28 L150.82,92.18 L150.92,92.09 L151.02,91.99 L151.07,91.94 L151.12,91.90 L151.22,91.80 L151.32,91.70 L151.42,91.61 L151.52,91.51 L151.62,91.42 L151.72,91.32 L151.82,91.22 L151.88,91.16 L151.92,91.13 L152.02,91.03 L152.12,90.93 L152.22,90.83 L152.32,90.74 L152.42,90.64 L152.52,90.54 L152.62,90.45 L152.70,90.37 L152.72,90.35 L152.82,90.25 L152.92,90.16 L153.02,90.06 L153.12,89.96 L153.22,89.86 L153.32,89.77 L153.42,89.67 L153.51,89.59 L153.52,89.58 L153.62,89.48 L153.72,89.38 L153.82,89.29 L153.92,89.19 L154.02,89.10 L154.12,89.00 L154.22,88.91 L154.32,88.81 L154.33,88.81 L154.42,88.72 L154.52,88.63 L154.62,88.53 L154.72,88.44 L154.82,88.35 L154.92,88.26 L155.03,88.17 L155.13,88.08 L155.14,88.06 L155.23,87.99 L155.33,87.90 L155.43,87.81 L155.53,87.72 L155.63,87.63 L155.73,87.55 L155.83,87.46 L155.93,87.38 L155.95,87.36 L156.03,87.30 L156.13,87.21 L156.23,87.13 L156.33,87.05 L156.43,86.97 L156.53,86.89 L156.63,86.82 L156.73,86.74 L156.77,86.71 L156.83,86.67 L156.93,86.59 L157.03,86.52 L157.13,86.45 L157.23,86.38 L157.33,86.32 L157.43,86.25 L157.53,86.19 L157.58,86.15 L157.63,86.12 L157.73,86.06 L157.83,86.01 L157.93,85.95 L158.03,85.90 L158.13,85.84 L158.23,85.79 L158.33,85.75 L158.40,85.71 L158.43,85.70 L158.53,85.66 L158.63,85.62 L158.73,85.58 L158.83,85.54 L158.93,85.51 L159.03,85.48 L159.13,85.45 L159.21,85.43 L159.23,85.43 L159.33,85.41 L159.43,85.39 L159.53,85.37 L159.63,85.36 L159.73,85.35 L159.83,85.35 L159.93,85.35 L160.03,85.35 L160.03,85.35 L160.13,85.36 L160.23,85.37 L160.33,85.38 L160.43,85.40 L160.53,85.42 L160.63,85.45 L160.73,85.48 L160.83,85.51 L160.84,85.51 L160.93,85.55 L161.04,85.59 L161.14,85.64 L161.24,85.70 L161.34,85.75 L161.44,85.82 L161.54,85.89 L161.64,85.96 L161.66,85.97 L161.74,86.04 L161.84,86.12 L161.94,86.21 L162.04,86.31 L162.14,86.41 L162.24,86.51 L162.34,86.62 L162.44,86.74 L162.47,86.78 L162.54,86.87 L162.64,87.00 L162.74,87.13 L162.84,87.27 L162.94,87.42 L163.04,87.58 L163.14,87.74 L163.24,87.90 L163.29,87.98 L163.34,88.08 L163.44,88.26 L163.54,88.45 L163.64,88.64 L163.74,88.84 L163.84,89.05 L163.94,89.26 L164.04,89.48 L164.10,89.61 L164.14,89.71 L164.24,89.94 L164.34,90.18 L164.44,90.43 L164.54,90.68 L164.64,90.94 L164.74,91.21 L164.84,91.48 L164.91,91.69 L164.94,91.76 L165.04,92.05 L165.14,92.34 L165.24,92.64 L165.34,92.95 L165.44,93.26 L165.54,93.58 L165.64,93.91 L165.73,94.20 L165.74,94.24 L165.84,94.58 L165.94,94.92 L166.04,95.27 L166.14,95.63 L166.24,95.99 L166.34,96.35 L166.44,96.73 L166.54,97.10 L166.54,97.10 L166.64,97.48 L166.74,97.87 L166.84,98.26 L166.94,98.66 L167.05,99.06 L167.15,99.46 L167.25,99.87 L167.35,100.28 L167.36,100.34 L167.45,100.70 L167.55,101.12 L167.65,101.54 L167.75,101.96 L167.85,102.39 L167.95,102.82 L168.05,103.26 L168.15,103.69 L168.17,103.80 L168.25,104.13 L168.35,104.57 L168.45,105.01 L168.55,105.45 L168.65,105.89 L168.75,106.33 L168.85,106.78 L168.95,107.22 L168.99,107.39 L169.05,107.66 L169.15,108.11 L169.25,108.55 L169.35,108.99 L169.45,109.44 L169.55,109.88 L169.65,110.32 L169.75,110.76 L169.80,110.99 L169.85,111.19 L169.95,111.63 L170.05,112.06 L170.15,112.49 L170.25,112.92 L170.35,113.35 L170.45,113.77 L170.55,114.19 L170.62,114.47 L170.65,114.61 L170.75,115.03 L170.85,115.44 L170.95,115.84 L171.05,116.25 L171.15,116.65 L171.25,117.05 L171.35,117.44 L171.43,117.74 L171.45,117.83 L171.55,118.21 L171.65,118.59 L171.75,118.96 L171.85,119.33 L171.95,119.70 L172.05,120.06 L172.15,120.42 L172.25,120.74 L172.25,120.77 L172.35,121.11 L172.45,121.46 L172.55,121.79 L172.65,122.12 L172.75,122.45 L172.85,122.77 L172.95,123.09 L173.06,123.40 L173.06,123.41 L173.16,123.70 L173.26,124.00 L173.36,124.30 L173.46,124.58 L173.56,124.87 L173.66,125.15 L173.76,125.42 L173.86,125.69 L173.87,125.74 L173.96,125.95 L174.06,126.21 L174.16,126.46 L174.26,126.71 L174.36,126.95 L174.46,127.19 L174.56,127.42 L174.66,127.65 L174.69,127.72 L174.76,127.87 L174.86,128.08 L174.96,128.30 L175.06,128.50 L175.16,128.70 L175.26,128.90 L175.36,129.09 L175.46,129.28 L175.50,129.36 L175.56,129.46 L175.66,129.64 L175.76,129.82 L175.86,129.99 L175.96,130.15 L176.06,130.31 L176.16,130.47 L176.26,130.62 L176.32,130.70 L176.36,130.77 L176.46,130.91 L176.56,131.05 L176.66,131.18 L176.76,131.32 L176.86,131.44 L176.96,131.57 L177.06,131.69 L177.13,131.77 L177.16,131.80 L177.26,131.92 L177.36,132.02 L177.46,132.13 L177.56,132.23 L177.66,132.33 L177.76,132.43 L177.86,132.52 L177.95,132.59 L177.96,132.61 L178.06,132.69 L178.16,132.78 L178.26,132.85 L178.36,132.93 L178.46,133.01 L178.56,133.08 L178.66,133.14 L178.76,133.21 L178.76,133.21 L178.86,133.27 L178.96,133.33 L179.07,133.39 L179.17,133.44 L179.27,133.50 L179.37,133.55 L179.47,133.59 L179.57,133.64 L179.58,133.64 L179.67,133.68 L179.77,133.72 L179.87,133.76 L179.97,133.80 L180.07,133.83 L180.17,133.86 L180.27,133.89 L180.37,133.92 L180.39,133.93 L180.47,133.95 L180.57,133.97 L180.67,134.00 L180.77,134.02 L180.87,134.04 L180.97,134.06 L181.07,134.07 L181.17,134.09 L181.21,134.09 L181.27,134.10 L181.37,134.11 L181.47,134.12 L181.57,134.13 L181.67,134.14 L181.77,134.14 L181.87,134.15 L181.97,134.15 L182.02,134.15 L182.07,134.15 L182.17,134.15 L182.27,134.15 L182.37,134.15 L182.47,134.14 L182.57,134.14 L182.67,134.13 L182.77,134.13 L182.83,134.12 L182.87,134.12 L182.97,134.11 L183.07,134.10 L183.17,134.09 L183.27,134.08 L183.37,134.07 L183.47,134.05 L183.57,134.04 L183.65,134.03 L183.67,134.03 L183.77,134.01 L183.87,133.99 L183.97,133.98 L184.07,133.96 L184.17,133.94 L184.27,133.92 L184.37,133.90 L184.46,133.88 L184.47,133.88 L184.57,133.86 L184.67,133.83 L184.77,133.81 L184.87,133.79 L184.97,133.76 L185.08,133.74 L185.18,133.71 L185.28,133.69 L185.28,133.69 L185.38,133.66 L185.48,133.63 L185.58,133.61 L185.68,133.58 L185.78,133.55 L185.88,133.52 L185.98,133.49 L186.08,133.46 L186.09,133.46 L186.18,133.43 L186.28,133.40 L186.38,133.37 L186.48,133.34 L186.58,133.31 L186.68,133.28 L186.78,133.24 L186.88,133.21 L186.91,133.20 L186.98,133.18 L187.08,133.15 L187.18,133.11 L187.28,133.08 L187.38,133.05 L187.48,133.01 L187.58,132.98 L187.68,132.94 L187.72,132.93 L187.78,132.91 L187.88,132.87 L187.98,132.84 L188.08,132.80 L188.18,132.76 L188.28,132.73 L188.38,132.69 L188.48,132.66 L188.54,132.64 L188.58,132.62 L188.68,132.58 L188.78,132.55 L188.88,132.51 L188.98,132.47 L189.08,132.43 L189.18,132.40 L189.28,132.36 L189.35,132.33 L189.38,132.32 L189.48,132.28 L189.58,132.25 L189.68,132.21 L189.78,132.17 L189.88,132.13 L189.98,132.09 L190.08,132.05 L190.17,132.02 L190.18,132.02 L190.28,131.98 L190.38,131.94 L190.48,131.90 L190.58,131.86 L190.68,131.82 L190.78,131.78 L190.88,131.74 L190.98,131.71 L190.98,131.71 L191.09,131.67 L191.19,131.63 L191.29,131.59 L191.39,131.55 L191.49,131.51 L191.59,131.47 L191.69,131.43 L191.79,131.39 L191.79,131.39 L191.89,131.35 L191.99,131.31 L192.09,131.28 L192.19,131.24 L192.29,131.20 L192.39,131.16 L192.49,131.12 L192.59,131.08 L192.61,131.07 L192.69,131.04 L192.79,131.00 L192.89,130.96 L192.99,130.92 L193.09,130.88 L193.19,130.84 L193.29,130.81 L193.39,130.77 L193.42,130.75 L193.49,130.73 L193.59,130.69 L193.69,130.65 L193.79,130.61 L193.89,130.57 L193.99,130.53 L194.09,130.49 L194.19,130.46 L194.24,130.44 L194.29,130.42 L194.39,130.38 L194.49,130.34 L194.59,130.30 L194.69,130.26 L194.79,130.22 L194.89,130.19 L194.99,130.15 L195.05,130.12 L195.09,130.11 L195.19,130.07 L195.29,130.03 L195.39,129.99 L195.49,129.96 L195.59,129.92 L195.69,129.88 L195.79,129.84 L195.87,129.81 L195.89,129.80 L195.99,129.77 L196.09,129.73 L196.19,129.69 L196.29,129.65 L196.39,129.62 L196.49,129.58 L196.59,129.54 L196.68,129.51 L196.69,129.50 L196.79,129.47 L196.89,129.43 L196.99,129.39 L197.10,129.35 L197.20,129.32 L197.30,129.28 L197.40,129.24 L197.50,129.21 L197.50,129.21 L197.60,129.17 L197.70,129.13 L197.80,129.10 L197.90,129.06 L198.00,129.02 L198.10,128.99 L198.20,128.95 L198.30,128.91 L198.31,128.91 L198.40,128.88 L198.50,128.84 L198.60,128.81 L198.70,128.77 L198.80,128.73 L198.90,128.70 L199.00,128.66 L199.10,128.63 L199.13,128.62 L199.20,128.59 L199.30,128.56 L199.40,128.52 L199.50,128.49 L199.60,128.45 L199.70,128.42 L199.80,128.38 L199.90,128.35 L199.94,128.33 L200.00,128.31 L200.75,128.05 L201.57,127.77 L202.38,127.50 L203.20,127.24 L204.01,126.98 L204.83,126.73 L205.64,126.48 L206.46,126.23 L207.27,125.99 L208.09,125.76 L208.90,125.53 L209.71,125.30 L210.53,125.08 L211.34,124.86 L212.16,124.65 L212.97,124.44 L213.79,124.24 L214.60,124.04 L215.42,123.84 L216.23,123.64 L217.05,123.45 L217.86,123.27 L218.67,123.08 L219.49,122.90 L220.30,122.73 L221.12,122.55 L221.93,122.38 L222.75,122.21 L223.56,122.04 L224.38,121.88 L225.19,121.72 L226.01,121.56 L226.82,121.40 L227.63,121.25 L228.45,121.10 L229.26,120.95 L230.08,120.80 L230.89,120.65 L231.71,120.51 L232.52,120.37 L233.34,120.23 L234.15,120.09 L234.96,119.95 L235.78,119.82 L236.59,119.68 L237.41,119.55 L238.22,119.42 L239.04,119.29 L239.85,119.16 L240.67,119.04 L241.48,118.91 L242.30,118.79 L243.11,118.67 L243.92,118.55 L244.74,118.43 L245.55,118.31 L246.37,118.19 L247.18,118.07 L248.00,117.96 L248.81,117.84 L249.63,117.73 L250.44,117.62 L251.26,117.51 L252.07,117.40 L252.88,117.29 L253.70,117.18 L254.51,117.07 L255.33,116.97 L256.14,116.86 L256.96,116.76 L257.77,116.65 L258.59,116.55 L259.40,116.45 L260.22,116.35 L261.03,116.24 L261.84,116.14 L262.66,116.05 L263.47,115.95 L264.29,115.85 L265.10,115.75 L265.92,115.65 L266.73,115.56 L267.55,115.46 L268.36,115.37 L269.18,115.27 L269.99,115.18 L270.80,115.08 L271.62,114.99 L272.43,114.90 L273.25,114.81 L274.06,114.72 L274.88,114.63 L275.69,114.54 L276.51,114.45 L277.32,114.36 L278.14,114.27 L278.95,114.18 L279.76,114.09 L280.58,114.00 L281.39,113.92 L282.21,113.83 L283.02,113.74 L283.84,113.66 L284.65,113.57 L285.47,113.49 L286.28,113.40 L287.10,113.32 L287.91,113.23 L288.72,113.15 L289.54,113.07 L290.35,112.98 L291.17,112.90 L291.98,112.82 L292.80,112.74 L293.61,112.66 L294.43,112.57 L295.24,112.49 L296.06,112.41 L296.87,112.33 L297.68,112.25 L298.50,112.17 L299.31,112.09 L300.13,112.01 L300.94,111.93 L301.76,111.85 L302.57,111.78 L303.39,111.70 L304.20,111.62 L305.02,111.54 L305.83,111.46 L306.64,111.39 L307.46,111.31 L308.27,111.23 L309.09,111.16 L309.90,111.08 L310.72,111.00 L311.53,110.93 L312.35,110.85 L313.16,110.78 L313.97,110.70 L314.79,110.63 L315.60,110.55 L316.42,110.48 L317.23,110.40 L318.05,110.33 L318.86,110.25 L319.68,110.18 L320.49,110.11 L321.31,110.03 L322.12,109.96 L322.93,109.89 L323.75,109.81 L324.56,109.74 L325.38,109.67 L326.19,109.60 L327.01,109.52 L327.82,109.45 L328.64,109.38 L329.45,109.31 L330.27,109.23 L331.08,109.16 L331.89,109.09 L332.71,109.02 L333.52,108.95 L334.34,108.88 L335.15,108.81 L335.97,108.74 L336.78,108.67 L337.60,108.60 L338.41,108.53 L339.23,108.45 L340.04,108.38 L340.85,108.31 L341.67,108.25 L342.48,108.18 L343.30,108.11 L344.11,108.04 L344.93,107.97 L345.74,107.90 L346.56,107.83 L347.37,107.76 L348.19,107.69 L349.00,107.62" stroke="#0a0a96"/>
<path d="M24.00,208.81 L24.81,208.71 L25.63,208.61 L26.44,208.51 L27.26,208.41 L28.07,208.31 L28.89,208.21 L29.70,208.11 L30.52,208.00 L31.33,207.90 L32.15,207.80 L32.96,207.70 L33.77,207.59 L34.59,207.49 L35.40,207.39 L36.22,207.28 L37.03,207.18 L37.85,207.07 L38.66,206.97 L39.48,206.86 L40.29,206.76 L41.11,206.65 L41.92,206.54 L42.73,206.44 L43.55,206.33 L44.36,206.22 L45.18,206.12 L45.99,206.01 L46.81,205.90 L47.62,205.79 L48.44,205.68 L49.25,205.57 L50.07,205.46 L50.88,205.35 L51.69,205.24 L52.51,205.13 L53.32,205.02 L54.14,204.91 L54.95,204.79 L55.77,204.68 L56.58,204.57 L57.40,204.45 L58.21,204.34 L59.03,204.22 L59.84,204.11 L60.65,203.99 L61.47,203.87 L62.28,203.76 L63.10,203.64 L63.91,203.52 L64.73,203.40 L65.54,203.28 L66.36,203.16 L67.17,203.04 L67.98,202.92 L68.80,202.79 L69.61,202.67 L70.43,202.54 L71.24,202.42 L72.06,202.29 L72.87,202.17 L73.69,202.04 L74.50,201.91 L75.32,201.78 L76.13,201.65 L76.94,201.52 L77.76,201.39 L78.57,201.26 L79.39,201.12 L80.20,200.99 L81.02,200.85 L81.83,200.71 L82.65,200.57 L83.46,200.43 L84.28,200.29 L85.09,200.15 L85.90,200.01 L86.72,199.86 L87.53,199.72 L88.35,199.57 L89.16,199.42 L89.98,199.27 L90.79,199.12 L91.61,198.96 L92.42,198.81 L93.24,198.65 L94.05,198.49 L94.86,198.33 L95.68,198.17 L96.49,198.00 L97.31,197.83 L98.12,197.66 L98.94,197.49 L99.75,197.32 L100.57,197.14 L101.38,196.96 L102.20,196.78 L103.01,196.60 L103.82,196.41 L104.64,196.22 L105.45,196.03 L106.27,195.83 L107.08,195.63 L107.90,195.43 L108.71,195.22 L109.53,195.01 L110.34,194.80 L111.16,194.58 L111.97,194.36 L112.78,194.13 L113.60,193.90 L114.41,193.66 L115.23,193.42 L116.04,193.18 L116.86,192.92 L117.67,192.67 L118.49,192.40 L119.30,192.13 L120.12,191.85 L120.93,191.57 L121.74,191.27 L122.56,190.97 L123.37,190.67 L124.19,190.35 L125.00,190.02 L125.82,189.68 L126.63,189.34 L127.45,188.98 L128.26,188.61 L129.08,188.23 L129.89,187.83 L130.70,187.42 L131.52,187.00 L132.33,186.56 L133.15,186.10 L133.96,185.63 L134.78,185.14 L135.59,184.62 L136.41,184.09 L137.22,183.53 L138.04,182.95 L138.85,182.35 L139.66,181.71 L140.00,181.44 L140.10,181.36 L140.20,181.28 L140.30,181.20 L140.40,181.11 L140.48,181.05 L140.50,181.03 L140.60,180.95 L140.70,180.86 L140.80,180.78 L140.90,180.69 L141.00,180.61 L141.10,180.52 L141.20,180.43 L141.29,180.35 L141.30,180.35 L141.40,180.26 L141.50,180.17 L141.60,180.08 L141.70,179.99 L141.80,179.90 L141.90,179.81 L142.00,179.72 L142.10,179.63 L142.11,179.62 L142.20,179.54 L142.30,179.44 L142.40,179.35 L142.50,179.26 L142.60,179.16 L142.70,179.07 L142.80,178.97 L142.90,178.88 L142.92,178.86 L143.01,178.78 L143.11,178.68 L143.21,178.58 L143.31,178.49 L143.41,178.39 L143.51,178.29 L143.61,178.19 L143.71,178.09 L143.74,178.06 L143.81,177.98 L143.91,177.88 L144.01,177.78 L144.11,177.68 L144.21,177.57 L144.31,177.47 L144.41,177.36 L144.51,177.26 L144.55,177.21 L144.61,177.15 L144.71,177.04 L144.81,176.94 L144.91,176.83 L145.01,176.72 L145.11,176.61 L145.21,176.50 L145.31,176.39 L145.37,176.32 L145.41,176.27 L145.51,176.16 L145.61,176.05 L145.71,175.93 L145.81,175.82 L145.91,175.70 L146.01,175.59 L146.11,175.47 L146.18,175.39 L146.21,175.35 L146.31,175.23 L146.41,175.11 L146.51,174.99 L146.61,174.87 L146.71,174.75 L146.81,174.63 L146.91,174.51 L146.99,174.40 L147.01,174.38 L147.11,174.26 L147.21,174.13 L147.31,174.01 L147.41,173.88 L147.51,173.75 L147.61,173.62 L147.71,173.49 L147.81,173.37 L147.81,173.36 L147.91,173.23 L148.01,173.10 L148.11,172.97 L148.21,172.83 L148.31,172.70 L148.41,172.56 L148.51,172.43 L148.61,172.29 L148.62,172.28 L148.71,172.15 L148.81,172.01 L148.91,171.87 L149.02,171.73 L149.12,171.59 L149.22,171.45 L149.32,171.30 L149.42,171.16 L149.44,171.13 L149.52,171.01 L149.62,170.87 L149.72,170.72 L149.82,170.57 L149.92,170.42 L150.02,170.28 L150.12,170.12 L150.22,169.97 L150.25,169.92 L150.32,169.82 L150.42,169.67 L150.52,169.51 L150.62,169.36 L150.72,169.20 L150.82,169.04 L150.92,168.89 L151.02,168.73 L151.07,168.65 L151.12,168.57 L151.22,168.40 L151.32,168.24 L151.42,168.08 L151.52,167.92 L151.62,167.75 L151.72,167.59 L151.82,167.42 L151.88,167.31 L151.92,167.25 L152.02,167.08 L152.12,166.91 L152.22,166.74 L152.32,166.57 L152.42,166.40 L152.52,166.22 L152.62,166.05 L152.70,165.92 L152.72,165.87 L152.82,165.70 L152.92,165.52 L153.02,165.34 L153.12,165.16 L153.22,164.98 L153.32,164.80 L153.42,164.62 L153.51,164.46 L153.52,164.44 L153.62,164.25 L153.72,164.07 L153.82,163.88 L153.92,163.70 L154.02,163.51 L154.12,163.32 L154.22,163.13 L154.32,162.95 L154.33,162.94 L154.42,162.75 L154.52,162.56 L154.62,162.37 L154.72,162.18 L154.82,161.99 L154.92,161.79 L155.03,161.60 L155.13,161.40 L155.14,161.37 L155.23,161.20 L155.33,161.01 L155.43,160.81 L155.53,160.61 L155.63,160.41 L155.73,160.21 L155.83,160.01 L155.93,159.81 L155.95,159.76 L156.03,159.61 L156.13,159.41 L156.23,159.21 L156.33,159.01 L156.43,158.81 L156.53,158.60 L156.63,158.40 L156.73,158.20 L156.77,158.11 L156.83,157.99 L156.93,157.79 L157.03,157.59 L157.13,157.38 L157.23,157.18 L157.33,156.98 L157.43,156.77 L157.53,156.57 L157.58,156.46 L157.63,156.37 L157.73,156.16 L157.83,155.96 L157.93,155.76 L158.03,155.56 L158.13,155.35 L158.23,155.15 L158.33,154.95 L158.40,154.82 L158.43,154.75 L158.53,154.55 L158.63,154.36 L158.73,154.16 L158.83,153.96 L158.93,153.77 L159.03,153.57 L159.13,153.38 L159.21,153.22 L159.23,153.19 L159.33,153.00 L159.43,152.81 L159.53,152.62 L159.63,152.43 L159.73,152.25 L159.83,152.07 L159.93,151.88 L160.03,151.72 L160.03,151.71 L160.13,151.53 L160.23,151.35 L160.33,151.18 L160.43,151.01 L160.53,150.85 L160.63,150.68 L160.73,150.52 L160.83,150.36 L160.84,150.35 L160.93,150.20 L161.04,150.05 L161.14,149.90 L161.24,149.75 L161.34,149.61 L161.44,149.47 L161.54,149.33 L161.64,149.20 L161.66,149.18 L161.74,149.07 L161.84,148.95 L161.94,148.83 L162.04,148.71 L162.14,148.60 L162.24,148.50 L162.34,148.39 L162.44,148.30 L162.47,148.27 L162.54,148.20 L162.64,148.12 L162.74,148.04 L162.84,147.96 L162.94,147.89 L163.04,147.82 L163.14,147.76 L163.24,147.71 L163.29,147.69 L163.34,147.66 L163.44,147.62 L163.54,147.58 L163.64,147.55 L163.74,147.53 L163.84,147.51 L163.94,147.50 L164.04,147.50 L164.10,147.50 L164.14,147.50 L164.24,147.52 L164.34,147.53 L164.44,147.56 L164.54,147.59 L164.64,147.63 L164.74,147.68 L164.84,147.73 L164.91,147.78 L164.94,147.79 L165.04,147.86 L165.14,147.94 L165.24,148.03 L165.34,148.12 L165.44,148.22 L165.54,148.33 L165.64,148.44 L165.73,148.55 L165.74,148.57 L165.84,148.70 L165.94,148.84 L166.04,148.99 L166.14,149.14 L166.24,149.31 L166.34,149.48 L166.44,149.66 L166.54,149.84 L166.54,149.85 L166.64,150.04 L166.74,150.24 L166.84,150.45 L166.94,150.67 L167.05,150.90 L167.15,151.13 L167.25,151.37 L167.35,151.62 L167.36,151.65 L167.45,151.87 L167.55,152.14 L167.65,152.40 L167.75,152.68 L167.85,152.96 L167.95,153.25 L168.05,153.55 L168.15,153.85 L168.17,153.93 L168.25,154.16 L168.35,154.47 L168.45,154.79 L168.55,155.12 L168.65,155.45 L168.75,155.79 L168.85,156.13 L168.95,156.48 L168.99,156.61 L169.05,156.83 L169.15,157.19 L169.25,157.55 L169.35,157.91 L169.45,158.28 L169.55,158.66 L169.65,159.03 L169.75,159.41 L169.80,159.61 L169.85,159.80 L169.95,160.18 L170.05,160.57 L170.15,160.97 L170.25,161.36 L170.35,161.76 L170.45,162.16 L170.55,162.56 L170.62,162.83 L170.65,162.97 L170.75,163.37 L170.85,163.78 L170.95,164.19 L171.05,164.59 L171.15,165.00 L171.25,165.41 L171.35,165.82 L171.43,166.15 L171.45,166.23 L171.55,166.65 L171.65,167.06 L171.75,167.47 L171.85,167.88 L171.95,168.29 L172.05,168.70 L172.15,169.10 L172.25,169.48 L172.25,169.51 L172.35,169.92 L172.45,170.32 L172.55,170.72 L172.65,171.12 L172.75,171.52 L172.85,171.92 L172.95,172.32 L173.06,172.71 L173.06,172.73 L173.16,173.10 L173.26,173.49 L173.36,173.88 L173.46,174.26 L173.56,174.64 L173.66,175.02 L173.76,175.40 L173.86,175.77 L173.87,175.84 L173.96,176.14 L174.06,176.51 L174.16,176.88 L174.26,177.24 L174.36,177.60 L174.46,177.95 L174.56,178.30 L174.66,178.65 L174.69,178.76 L174.76,179.00 L174.86,179.34 L174.96,179.68 L175.06,180.01 L175.16,180.34 L175.26,180.67 L175.36,180.99 L175.46,181.31 L175.50,181.46 L175.56,181.63 L175.66,181.94 L175.76,182.25 L175.86,182.56 L175.96,182.86 L176.06,183.16 L176.16,183.46 L176.26,183.75 L176.32,183.92 L176.36,184.04 L176.46,184.32 L176.56,184.60 L176.66,184.88 L176.76,185.15 L176.86,185.42 L176.96,185.69 L177.06,185.95 L177.13,186.13 L177.16,186.21 L177.26,186.46 L177.36,186.72 L177.46,186.96 L177.56,187.21 L177.66,187.45 L177.76,187.69 L177.86,187.92 L177.95,188.12 L177.96,188.15 L178.06,188.38 L178.16,188.61 L178.26,188.83 L178.36,189.04 L178.46,189.26 L178.56,189.47 L178.66,189.68 L178.76,189.88 L178.76,189.88 L178.86,190.08 L178.96,190.28 L179.07,190.48 L179.17,190.67 L179.27,190.86 L179.37,191.04 L179.47,191.23 L179.57,191.41 L179.58,191.43 L179.67,191.59 L179.77,191.76 L179.87,191.93 L179.97,192.10 L180.07,192.27 L180.17,192.43 L180.27,192.59 L180.37,192.75 L180.39,192.79 L180.47,192.90 L180.57,193.06 L180.67,193.21 L180.77,193.36 L180.87,193.50 L180.97,193.64 L181.07,193.78 L181.17,193.92 L181.21,193.97 L181.27,194.06 L181.37,194.19 L181.47,194.32 L181.57,194.45 L181.67,194.58 L181.77,194.70 L181.87,194.82 L181.97,194.94 L182.02,195.00 L182.07,195.06 L182.17,195.18 L182.27,195.29 L182.37,195.40 L182.47,195.51 L182.57,195.62 L182.67,195.72 L182.77,195.83 L182.83,195.89 L182.87,195.93 L182.97,196.03 L183.07,196.13 L183.17,196.22 L183.27,196.32 L183.37,196.41 L183.47,196.50 L183.57,196.59 L183.65,196.66 L183.67,196.68 L183.77,196.77 L183.87,196.85 L183.97,196.94 L184.07,197.02 L184.17,197.10 L184.27,197.17 L184.37,197.25 L184.46,197.32 L184.47,197.33 L184.57,197.40 L184.67,197.47 L184.77,197.54 L184.87,197.61 L184.97,197.68 L185.08,197.75 L185.18,197.82 L185.28,197.88 L185.28,197.88 L185.38,197.94 L185.48,198.01 L185.58,198.07 L185.68,198.13 L185.78,198.18 L185.88,198.24 L185.98,198.30 L186.08,198.35 L186.09,198.36 L186.18,198.41 L186.28,198.46 L186.38,198.51 L186.48,198.56 L186.58,198.61 L186.68,198.66 L186.78,198.71 L186.88,198.75 L186.91,198.76 L186.98,198.80 L187.08,198.84 L187.18,198.88 L187.28,198.93 L187.38,198.97 L187.48,199.01 L187.58,199.05 L187.68,199.09 L187.72,199.10 L187.78,199.13 L187.88,199.16 L187.98,199.20 L188.08,199.23 L188.18,199.27 L188.28,199.30 L188.38,199.34 L188.48,199.37 L188.54,199.39 L188.58,199.40 L188.68,199.43 L188.78,199.46 L188.88,199.49 L188.98,199.52 L189.08,199.55 L189.18,199.57 L189.28,199.60 L189.35,199.62 L189.38,199.63 L189.48,199.65 L189.58,199.68 L189.68,199.70 L189.78,199.72 L189.88,199.75 L189.98,199.77 L190.08,199.79 L190.17,199.81 L190.18,199.81 L190.28,199.83 L190.38,199.85 L190.48,199.87 L190.58,199.89 L190.68,199.91 L190.78,199.92 L190.88,199.94 L190.98,199.96 L190.98,199.96 L191.09,199.97 L191.19,199.99 L191.29,200.00 L191.39,200.02 L191.49,200.03 L191.59,200.05 L191.69,200.06 L191.79,200.07 L191.79,200.07 L191.89,200.09 L191.99,200.10 L192.09,200.11 L192.19,200.12 L192.29,200.13 L192.39,200.14 L192.49,200.15 L192.59,200.16 L192.61,200.16 L192.69,200.17 L192.79,200.18 L192.89,200.18 L192.99,200.19 L193.09,200.20 L193.19,200.21 L193.29,200.21 L193.39,200.22 L193.42,200.22 L193.49,200.23 L193.59,200.23 L193.69,200.24 L193.79,200.24 L193.89,200.25 L193.99,200.25 L194.09,200.25 L194.19,200.26 L194.24,200.26 L194.29,200.26 L194.39,200.26 L194.49,200.27 L194.59,200.27 L194.69,200.27 L194.79,200.27 L194.89,200.28 L194.99,200.28 L195.05,200.28 L195.09,200.28 L195.19,200.28 L195.29,200.28 L195.39,200.28 L195.49,200.28 L195.59,200.28 L195.69,200.28 L195.79,200.28 L195.87,200.28 L195.89,200.28 L195.99,200.28 L196.09,200.28 L196.19,200.27 L196.29,200.27 L196.39,200.27 L196.49,200.27 L196.59,200.27 L196.68,200.26 L196.69,200.26 L196.79,200.26 L196.89,200.26 L196.99,200.25 L197.10,200.25 L197.20,200.25 L197.30,200.24 L197.40,200.24 L197.50,200.23 L197.50,200.23 L197.60,200.23 L197.70,200.23 L197.80,200.22 L197.90,200.22 L198.00,200.21 L198.10,200.21 L198.20,200.20 L198.30,200.19 L198.31,200.19 L198.40,200.19 L198.50,200.18 L198.60,200.18 L198.70,200.17 L198.80,200.16 L198.90,200.16 L199.00,200.15 L199.10,200.14 L199.13,200.14 L199.20,200.14 L199.30,200.13 L199.40,200.12 L199.50,200.12 L199.60,200.11 L199.70,200.10 L199.80,200.09 L199.90,200.09 L199.94,200.08 L200.00,200.08 L200.75,200.01 L201.57,199.94 L202.38,199.86 L203.20,199.77 L204.01,199.68 L204.83,199.58 L205.64,199.48 L206.46,199.37 L207.27,199.27 L208.09,199.16 L208.90,199.05 L209.71,198.93 L210.53,198.82 L211.34,198.70 L212.16,198.58 L212.97,198.46 L213.79,198.35 L214.60,198.23 L215.42,198.10 L216.23,197.98 L217.05,197.86 L217.86,197.74 L218.67,197.62 L219.49,197.50 L220.30,197.37 L221.12,197.25 L221.93,197.13 L222.75,197.01 L223.56,196.89 L224.38,196.76 L225.19,196.64 L226.01,196.52 L226.82,196.40 L227.63,196.28 L228.45,196.16 L229.26,196.04 L230.08,195.92 L230.89,195.80 L231.71,195.68 L232.52,195.56 L233.34,195.45 L234.15,195.33 L234.96,195.21 L235.78,195.10 L236.59,194.98 L237.41,194.86 L238.22,194.75 L239.04,194.63 L239.85,194.52 L240.67,194.40 L241.48,194.29 L242.30,194.17 L243.11,194.06 L243.92,193.95 L244.74,193.84 L245.55,193.72 L246.37,193.61 L247.18,193.50 L248.00,193.39 L248.81,193.28 L249.63,193.17 L250.44,193.06 L251.26,192.95 L252.07,192.84 L252.88,192.73 L253.70,192.62 L254.51,192.51 L255.33,192.41 L256.14,192.30 L256.96,192.19 L257.77,192.08 L258.59,191.98 L259.40,191.87 L260.22,191.76 L261.03,191.66 L261.84,191.55 L262.66,191.45 L263.47,191.34 L264.29,191.24 L265.10,191.13 L265.92,191.03 L266.73,190.93 L267.55,190.82 L268.36,190.72 L269.18,190.62 L269.99,190.51 L270.80,190.41 L271.62,190.31 L272.43,190.21 L273.25,190.11 L274.06,190.00 L274.88,189.90 L275.69,189.80 L276.51,189.70 L277.32,189.60 L278.14,189.50 L278.95,189.40 L279.76,189.30 L280.58,189.20 L281.39,189.10 L282.21,189.00 L283.02,188.90 L283.84,188.80 L284.65,188.70 L285.47,188.61 L286.28,188.51 L287.10,188.41 L287.91,188.31 L288.72,188.21 L289.54,188.12 L290.35,188.02 L291.17,187.92 L291.98,187.82 L292.80,187.73 L293.61,187.63 L294.43,187.53 L295.24,187.44 L296.06,187.34 L296.87,187.24 L297.68,187.15 L298.50,187.05 L299.31,186.96 L300.13,186.86 L300.94,186.76 L301.76,186.67 L302.57,186.57 L303.39,186.48 L304.20,186.38 L305.02,186.29 L305.83,186.19 L306.64,186.10 L307.46,186.01 L308.27,185.91 L309.09,185.82 L309.90,185.72 L310.72,185.63 L311.53,185.54 L312.35,185.44 L313.16,185.35 L313.97,185.25 L314.79,185.16 L315.60,185.07 L316.42,184.97 L317.23,184.88 L318.05,184.79 L318.86,184.70 L319.68,184.60 L320.49,184.51 L321.31,184.42 L322.12,184.33 L322.93,184.23 L323.75,184.14 L324.56,184.05 L325.38,183.96 L326.19,183.87 L327.01,183.77 L327.82,183.68 L328.64,183.59 L329.45,183.50 L330.27,183.41 L331.08,183.32 L331.89,183.22 L332.71,183.13 L333.52,183.04 L334.34,182.95 L335.15,182.86 L335.97,182.77 L336.78,182.68 L337.60,182.59 L338.41,182.50 L339.23,182.41 L340.04,182.32 L340.85,182.23 L341.67,182.13 L342.48,182.04 L343.30,181.95 L344.11,181.86 L344.93,181.77 L345.74,181.68 L346.56,181.59 L347.37,181.50 L348.19,181.41 L349.00,181.32" stroke="#880088"/>
</g>
</g>
<g clip-path="url(#c2)">
<g fill="#000"><circle cx="22.0" cy="296.7" r="3.15"/><circle cx="25.7" cy="296.5" r="3.15"/><circle cx="29.4" cy="296.7" r="3.15"/><circle cx="33.1" cy="296.5" r="3.15"/><circle cx="36.8" cy="297.6" r="3.15"/><circle cx="40.5" cy="296.9" r="3.15"/><circle cx="44.2" cy="296.8" r="3.15"/><circle cx="47.9" cy="294.8" r="3.15"/><circle cx="51.6" cy="295.6" r="3.15"/><circle cx="55.3" cy="295.3" r="3.15"/><circle cx="59.0" cy="295.8" r="3.15"/><circle cx="62.7" cy="294.2" r="3.15"/><circle cx="66.4" cy="296.0" r="3.15"/><circle cx="70.1" cy="295.8" r="3.15"/><circle cx="73.8" cy="294.5" r="3.15"/><circle cx="77.5" cy="294.5" r="3.15"/><circle cx="81.2" cy="294.6" r="3.15"/><circle cx="84.9" cy="294.7" r="3.15"/><circle cx="88.6" cy="294.7" r="3.15"/><circle cx="92.3" cy="295.2" r="3.15"/><circle cx="96.0" cy="293.7" r="3.15"/><circle cx="99.7" cy="293.9" r="3.15"/><circle cx="103.4" cy="293.3" r="3.15"/><circle cx="107.1" cy="293.9" r="3.15"/><circle cx="110.8" cy="292.9" r="3.15"/><circle cx="114.5" cy="292.7" r="3.15"/><circle cx="118.2" cy="290.7" r="3.15"/><circle cx="229.2" cy="295.5" r="3.15"/><circle cx="232.9" cy="294.7" r="3.15"/><circle cx="236.6" cy="295.6" r="3.15"/><circle cx="240.3" cy="294.7" r="3.15"/><circle cx="244.0" cy="293.7" r="3.15"/><circle cx="247.7" cy="293.4" r="3.15"/><circle cx="251.4" cy="293.7" r="3.15"/><circle cx="255.1" cy="292.9" r="3.15"/><circle cx="258.8" cy="292.6" r="3.15"/><circle cx="262.5" cy="293.2" r="3.15"/><circle cx="266.2" cy="294.2" r="3.15"/><circle cx="269.9" cy="292.9" r="3.15"/><circle cx="273.6" cy="293.0" r="3.15"/><circle cx="277.3" cy="292.8" r="3.15"/><circle cx="281.0" cy="293.0" r="3.15"/><circle cx="284.7" cy="294.2" r="3.15"/><circle cx="288.4" cy="294.6" r="3.15"/><circle cx="292.1" cy="294.4" r="3.15"/><circle cx="295.8" cy="294.8" r="3.15"/><circle cx="299.5" cy="295.0" r="3.15"/><circle cx="303.2" cy="295.3" r="3.15"/><circle cx="306.9" cy="294.6" r="3.15"/><circle cx="310.6" cy="295.5" r="3.15"/><circle cx="314.3" cy="296.1" r="3.15"/><circle cx="318.0" cy="296.0" r="3.15"/><circle cx="321.7" cy="296.5" r="3.15"/><circle cx="325.4" cy="296.6" r="3.15"/><circle cx="329.1" cy="297.2" r="3.15"/><circle cx="332.8" cy="298.1" r="3.15"/><circle cx="336.5" cy="297.6" r="3.15"/><circle cx="340.2" cy="297.8" r="3.15"/><circle cx="343.9" cy="298.5" r="3.15"/><circle cx="347.6" cy="298.6" r="3.15"/><circle cx="123.1" cy="290.3" r="3.15"/><circle cx="127.2" cy="289.1" r="3.15"/><circle cx="131.3" cy="285.6" r="3.15"/><circle cx="134.5" cy="283.0" r="3.15"/><circle cx="137.2" cy="282.1" r="3.15"/><circle cx="140.1" cy="285.0" r="3.15"/><circle cx="143.6" cy="290.3" r="3.15"/><circle cx="147.7" cy="289.1" r="3.15"/><circle cx="151.2" cy="288.3" r="3.15"/><circle cx="154.9" cy="282.5" r="3.15"/><circle cx="158.0" cy="262.4" r="3.15"/><circle cx="161.7" cy="234.2" r="3.15"/><circle cx="165.6" cy="231.6" r="3.15"/><circle cx="169.3" cy="267.1" r="3.15"/><circle cx="173.0" cy="286.6" r="3.15"/><circle cx="176.9" cy="293.4" r="3.15"/><circle cx="180.6" cy="300.6" r="3.15"/><circle cx="184.6" cy="311.2" r="3.15"/><circle cx="188.0" cy="322.9" r="3.15"/><circle cx="191.9" cy="325.9" r="3.15"/><circle cx="195.4" cy="319.1" r="3.15"/><circle cx="199.1" cy="310.5" r="3.15"/><circle cx="202.6" cy="304.9" r="3.15"/><circle cx="206.0" cy="301.9" r="3.15"/><circle cx="209.4" cy="299.7" r="3.15"/><circle cx="212.9" cy="298.0" r="3.15"/><circle cx="216.3" cy="297.1" r="3.15"/><circle cx="219.7" cy="296.6" r="3.15"/><circle cx="223.0" cy="295.8" r="3.15"/><circle cx="226.4" cy="295.4" r="3.15"/></g>
<g fill="none" stroke-width="1.75" stroke-dasharray="3.8 2.4"><line x1="24" y1="300.36" x2="349" y2="293.36" stroke="#0000ff"/></g>
<path d="M24.00,292.70 C28.77,292.37 43.08,291.37 52.60,290.70 C62.12,290.03 72.53,289.42 81.10,288.70 C89.67,287.98 98.35,287.08 104.00,286.40 C109.65,285.72 112.33,285.10 115.00,284.60 C117.67,284.10 118.13,283.92 120.00,283.40 C121.87,282.88 124.32,282.35 126.20,281.50 C128.08,280.65 130.00,279.17 131.30,278.30 C132.60,277.43 133.18,276.77 134.00,276.30 C134.82,275.83 135.43,275.52 136.20,275.50 C136.97,275.48 137.80,275.78 138.60,276.20 C139.40,276.62 140.02,277.35 141.00,278.00 C141.98,278.65 143.25,279.97 144.50,280.10 C145.75,280.23 147.08,279.65 148.50,278.80 C149.92,277.95 151.75,276.22 153.00,275.00 C154.25,273.78 155.00,273.00 156.00,271.50 C157.00,270.00 158.08,267.83 159.00,266.00 C159.92,264.17 160.75,262.33 161.50,260.50 C162.25,258.67 162.80,257.25 163.50,255.00 C164.20,252.75 165.03,249.42 165.70,247.00 C166.37,244.58 166.90,242.25 167.50,240.50 C168.10,238.75 168.75,237.53 169.30,236.50 C169.85,235.47 170.30,234.55 170.80,234.30 C171.30,234.05 171.87,234.47 172.30,235.00 C172.73,235.53 173.07,236.17 173.40,237.50 C173.73,238.83 174.02,240.58 174.30,243.00 C174.58,245.42 174.82,248.50 175.10,252.00 C175.38,255.50 175.70,260.00 176.00,264.00 C176.30,268.00 176.58,272.17 176.90,276.00 C177.22,279.83 177.55,283.17 177.90,287.00 C178.25,290.83 178.62,295.00 179.00,299.00 C179.38,303.00 179.80,307.27 180.20,311.00 C180.60,314.73 181.02,318.73 181.40,321.40 C181.78,324.07 181.98,325.23 182.50,327.00 C183.02,328.77 183.83,331.25 184.50,332.00 C185.17,332.75 185.83,332.00 186.50,331.50 C187.17,331.00 187.75,330.00 188.50,329.00 C189.25,328.00 189.80,327.10 191.00,325.50 C192.20,323.90 193.77,321.55 195.70,319.40 C197.63,317.25 200.03,314.60 202.60,312.60 C205.17,310.60 207.97,308.88 211.10,307.40 C214.23,305.92 218.02,304.78 221.40,303.70 C224.78,302.62 227.35,301.67 231.40,300.90 C235.45,300.13 240.93,299.58 245.70,299.10 C250.47,298.62 251.90,298.60 260.00,298.00 C268.10,297.40 285.97,296.08 294.30,295.50 C302.63,294.92 303.82,294.87 310.00,294.50 C316.18,294.13 324.90,293.62 331.40,293.30 C337.90,292.98 346.07,292.72 349.00,292.60" fill="none" stroke="#0000ff" stroke-width="1.6" stroke-linejoin="round"/>
</g>
<g stroke="#000" fill="none">
<rect x="24.3" y="0.75" width="324.9" height="341.75" stroke-width="1.6"/>
<line x1="24" y1="218.3" x2="349" y2="218.3" stroke-width="1.4"/>
<g stroke-width="1.2"><line x1="51.08" y1="215.30" x2="51.08" y2="218.3"/><line x1="51.08" y1="339.50" x2="51.08" y2="342.5"/><line x1="78.17" y1="212.80" x2="78.17" y2="218.3"/><line x1="78.17" y1="337.00" x2="78.17" y2="342.5"/><line x1="105.25" y1="215.30" x2="105.25" y2="218.3"/><line x1="105.25" y1="339.50" x2="105.25" y2="342.5"/><line x1="132.33" y1="215.30" x2="132.33" y2="218.3"/><line x1="132.33" y1="339.50" x2="132.33" y2="342.5"/><line x1="159.42" y1="215.30" x2="159.42" y2="218.3"/><line x1="159.42" y1="339.50" x2="159.42" y2="342.5"/><line x1="186.50" y1="212.80" x2="186.50" y2="218.3"/><line x1="186.50" y1="337.00" x2="186.50" y2="342.5"/><line x1="213.58" y1="215.30" x2="213.58" y2="218.3"/><line x1="213.58" y1="339.50" x2="213.58" y2="342.5"/><line x1="240.67" y1="215.30" x2="240.67" y2="218.3"/><line x1="240.67" y1="339.50" x2="240.67" y2="342.5"/><line x1="267.75" y1="215.30" x2="267.75" y2="218.3"/><line x1="267.75" y1="339.50" x2="267.75" y2="342.5"/><line x1="294.83" y1="212.80" x2="294.83" y2="218.3"/><line x1="294.83" y1="337.00" x2="294.83" y2="342.5"/><line x1="321.92" y1="215.30" x2="321.92" y2="218.3"/><line x1="321.92" y1="339.50" x2="321.92" y2="342.5"/></g>
</g>
<g font-family="Liberation Sans, Arial, sans-serif" fill="#000" stroke="#000" stroke-width="0.4">
<text x="33" y="22.4" font-size="18.5">T = 295 K</text>
<text x="32.5" y="46" font-size="16.8">q = -1.0</text>
<text x="232.3" y="27.2" font-size="18.5">h<tspan font-family="DejaVu Sans, sans-serif" font-size="15.5" dx="0.2">&#957;</tspan><tspan font-size="12.8" dy="4.7" dx="0.6">L</tspan><tspan dy="-4.7"> = 1.96 eV</tspan></text>
<text x="32.5" y="108.6" font-size="17">q = -1.35</text>
<text x="279" y="104" font-size="18.5">2.62 eV</text>
<text x="32.5" y="193.7" font-size="16.8">q = -3.0</text>
<text x="279" y="174.3" font-size="18.5">3.06 eV</text>
<text x="33" y="241.9" font-size="18.5">T = 50 K</text>
<text x="32.5" y="282.7" font-size="16.8">q = -1.3</text>
<text x="232.3" y="280.5" font-size="18.5">h<tspan font-family="DejaVu Sans, sans-serif" font-size="15.5" dx="0.2">&#957;</tspan><tspan font-size="12.8" dy="4.7" dx="0.6">L</tspan><tspan dy="-4.7"> = 2.62 eV</tspan></text>
<g font-size="16.6" text-anchor="middle">
<text x="78.1" y="362">200</text><text x="186.5" y="362">220</text><text x="294.8" y="362">240</text>
</g>
<text x="187.5" y="385.1" font-size="18.5" text-anchor="middle">Stokes Shift (cm<tspan font-size="11" dy="-7.5">-1</tspan><tspan dy="7.5">)</tspan></text>
<text transform="translate(13.8,174.4) rotate(-90)" font-size="18.5" text-anchor="middle">Raman Intensity (arb. units)</text>
</g>
</svg>
</body></html>
